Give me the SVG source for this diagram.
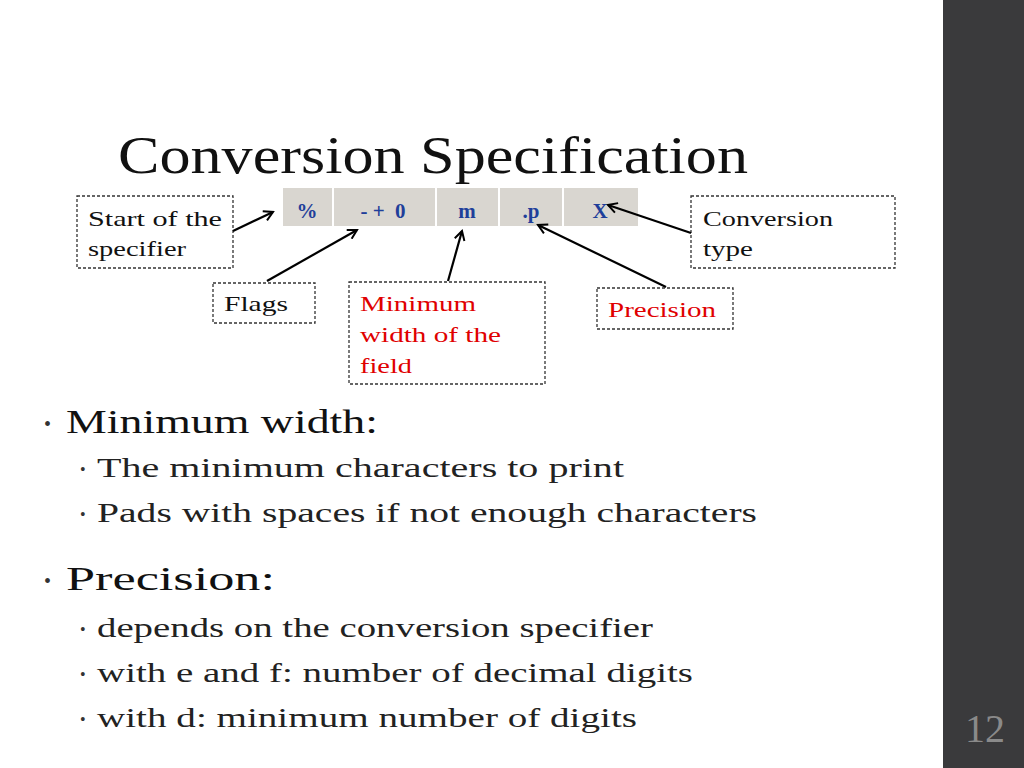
<svg xmlns="http://www.w3.org/2000/svg" width="1024" height="768" viewBox="0 0 1024 768">
<defs>
<marker id="ah" markerWidth="12" markerHeight="12" refX="10" refY="6" orient="auto" markerUnits="userSpaceOnUse"><path d="M1,1 L10,6 L1,11" fill="none" stroke="#000" stroke-width="2"/></marker>
</defs>
<style>
text{font-family:"Liberation Serif","DejaVu Serif",serif}
.box{fill:#fff;stroke:#333;stroke-width:1.3;stroke-dasharray:3,2}
.lbl{font-size:22px;fill:#111}
.red{font-size:22px;fill:#e00000}
.cell{fill:#d9d6d0}
.ct{font-size:21px;fill:#1f3f9a;font-weight:bold;text-anchor:middle}
.b1{font-size:33px;fill:#111}
.b2{font-size:27px;fill:#222}
.dot1{font-size:20px;fill:#333}
.dot2{font-size:16px;fill:#333}
.con{stroke:#000;stroke-width:2.2;fill:none;marker-end:url(#ah)}
</style>
<rect width="1024" height="768" fill="#fff"/>
<rect x="943" y="0" width="81" height="768" fill="#3a3a3c"/>
<text x="985" y="742" font-size="40" fill="#8a8a8a" text-anchor="middle">12</text>
<text x="118" y="173" font-size="52" fill="#111" textLength="630" lengthAdjust="spacingAndGlyphs">Conversion Specification</text>
<g id="table">
<rect class="cell" x="283" y="188" width="49" height="38"/>
<rect class="cell" x="334" y="188" width="101" height="38"/>
<rect class="cell" x="437" y="188" width="61" height="38"/>
<rect class="cell" x="500" y="188" width="62" height="38"/>
<rect class="cell" x="564" y="188" width="74" height="38"/>
<text class="ct" x="307" y="218" font-weight="normal" font-size="18">%</text>
<text class="ct" x="383" y="218" xml:space="preserve">- +  0</text>
<text class="ct" x="467" y="218">m</text>
<text class="ct" x="531" y="218">.p</text>
<text class="ct" x="600" y="218">X</text>
</g>
<g id="start"><rect class="box" x="77" y="196" width="156" height="72"/><text class="lbl" x="88" y="226" textLength="134" lengthAdjust="spacingAndGlyphs">Start of the</text><text class="lbl" x="88" y="256" textLength="98" lengthAdjust="spacingAndGlyphs">specifier</text></g>
<g id="flags"><rect class="box" x="213" y="283" width="102" height="40"/><text class="lbl" x="224" y="311" textLength="64" lengthAdjust="spacingAndGlyphs">Flags</text></g>
<g id="minw"><rect class="box" x="349" y="282" width="196" height="102"/><text class="red" x="360" y="311" textLength="116" lengthAdjust="spacingAndGlyphs">Minimum</text><text class="red" x="360" y="342" textLength="141" lengthAdjust="spacingAndGlyphs">width of the</text><text class="red" x="360" y="373" textLength="52" lengthAdjust="spacingAndGlyphs">field</text></g>
<g id="prec"><rect class="box" x="597" y="288" width="136" height="41"/><text class="red" x="608" y="317" textLength="108" lengthAdjust="spacingAndGlyphs">Precision</text></g>
<g id="conv"><rect class="box" x="691" y="196" width="204" height="72"/><text class="lbl" x="703" y="226" textLength="130" lengthAdjust="spacingAndGlyphs">Conversion</text><text class="lbl" x="703" y="256" textLength="50" lengthAdjust="spacingAndGlyphs">type</text></g>
<g id="connectors">
<line class="con" x1="233" y1="231" x2="273" y2="212"/>
<line class="con" x1="267" y1="281" x2="357" y2="230"/>
<line class="con" x1="448" y1="281" x2="462" y2="231"/>
<line class="con" x1="666" y1="287" x2="538" y2="225"/>
<line class="con" x1="691" y1="233" x2="608" y2="205"/>
</g>
<g id="bullets">
<text class="dot1" x="44" y="431">•</text><text class="b1" x="66" y="433" textLength="312" lengthAdjust="spacingAndGlyphs">Minimum width:</text>
<text class="dot2" x="80" y="475">•</text><text class="b2" x="97" y="477" textLength="527" lengthAdjust="spacingAndGlyphs">The minimum characters to print</text>
<text class="dot2" x="80" y="520">•</text><text class="b2" x="97" y="522" textLength="660" lengthAdjust="spacingAndGlyphs">Pads with spaces if not enough characters</text>
<text class="dot1" x="44" y="588">•</text><text class="b1" x="66" y="590" textLength="209" lengthAdjust="spacingAndGlyphs">Precision:</text>
<text class="dot2" x="80" y="635">•</text><text class="b2" x="97" y="637" textLength="556" lengthAdjust="spacingAndGlyphs">depends on the conversion specifier</text>
<text class="dot2" x="80" y="680">•</text><text class="b2" x="97" y="682" textLength="596" lengthAdjust="spacingAndGlyphs">with e and f: number of decimal digits</text>
<text class="dot2" x="80" y="725">•</text><text class="b2" x="97" y="727" textLength="540" lengthAdjust="spacingAndGlyphs">with d: minimum number of digits</text>
</g>
</svg>
